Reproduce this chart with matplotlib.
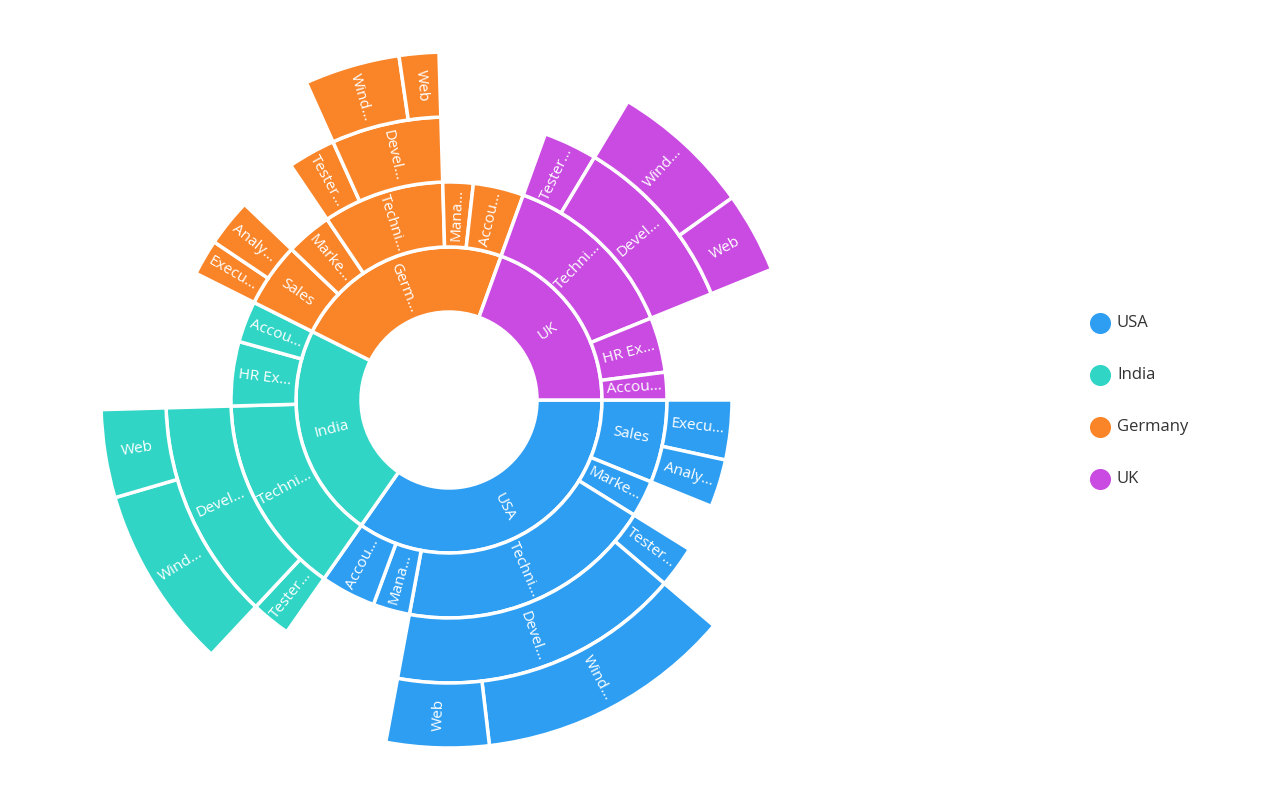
import matplotlib
matplotlib.use("Agg")
import matplotlib.pyplot as plt
from matplotlib.patches import Wedge
import numpy as np

# leaf paths (country, group, sub group, role) and their values
leaf_paths = [
    ("USA", "Sales", "Executive"),
    ("USA", "Sales", "Analyst"),
    ("USA", "Marketing"),
    ("USA", "Technical", "Testers"),
    ("USA", "Technical", "Developers", "Windows"),
    ("USA", "Technical", "Developers", "Web"),
    ("USA", "Management"),
    ("USA", "Accounts"),
    ("India", "Technical", "Testers"),
    ("India", "Technical", "Developers", "Windows"),
    ("India", "Technical", "Developers", "Web"),
    ("India", "HR Executives"),
    ("India", "Accounts"),
    ("Germany", "Sales", "Executive"),
    ("Germany", "Sales", "Analyst"),
    ("Germany", "Marketing"),
    ("Germany", "Technical", "Testers"),
    ("Germany", "Technical", "Developers", "Windows"),
    ("Germany", "Technical", "Developers", "Web"),
    ("Germany", "Management"),
    ("Germany", "Accounts"),
    ("UK", "Technical", "Testers"),
    ("UK", "Technical", "Developers", "Windows"),
    ("UK", "Technical", "Developers", "Web"),
    ("UK", "HR Executives"),
    ("UK", "Accounts"),
]
leaf_values = [50, 40, 40, 35, 175, 70, 40, 60,
               33, 125, 60, 70, 45,
               30, 40, 50, 40, 65, 27, 33, 55,
               45, 96, 55, 60, 30]

countries = ["USA", "India", "Germany", "UK"]
colors = {"USA": "#2E9EF3", "India": "#31D5C6", "Germany": "#FA8529", "UK": "#C94BE1"}

# labels as they appear (trimmed to fit)
short_labels = {
    "Germany": "Germ...", "Marketing": "Marke...", "Technical": "Techni...",
    "Management": "Mana...", "Accounts": "Accou...", "HR Executives": "HR Ex...",
    "Executive": "Execu...", "Analyst": "Analy...", "Testers": "Tester...",
    "Developers": "Devel...", "Windows": "Wind...",
}

CX, CY = 449, 389
HOLE = 88
RING = 65

fig = plt.figure(figsize=(12.69, 7.89), dpi=100)
ax = fig.add_axes([0, 0, 1, 1])
ax.set_xlim(0, 1269)
ax.set_ylim(0, 789)
ax.axis("off")

# aggregate every node (path prefix) in order
nodes = {}
order = []
for path, v in zip(leaf_paths, leaf_values):
    for d in range(1, len(path) + 1):
        key = path[:d]
        if key not in nodes:
            nodes[key] = 0
            order.append(key)
        nodes[key] += v

total = sum(leaf_values)
start = {}
cursor = {(): 0.0}
for key in order:
    parent = key[:-1]
    a0 = cursor[parent]
    span = nodes[key] / total * 360
    cursor[parent] = a0 - span
    cursor[key] = a0
    theta2, theta1 = a0, a0 - span
    depth = len(key)
    r_in = HOLE + RING * (depth - 1)
    ax.add_patch(Wedge((CX, CY), r_in + RING, theta1, theta2, width=RING,
                       facecolor=colors[key[0]], edgecolor="white", linewidth=2.5))
    mid = (theta1 + theta2) / 2
    rm = r_in + RING / 2
    x = CX + rm * np.cos(np.radians(mid))
    y = CY + rm * np.sin(np.radians(mid))
    m = (mid + 360) % 360
    rot = mid if (m < 90 or m > 270) else mid + 180
    name = key[-1]
    ax.text(x, y, short_labels.get(name, name), rotation=rot, rotation_mode="anchor",
            ha="center", va="center", color="white", fontsize=11,
            family=["Open Sans", "DejaVu Sans"])

# legend
for i, c in enumerate(countries):
    ly = 789 - (323 + i * 52)
    ax.scatter([1100], [ly], s=200, color=colors[c], marker="o")
    ax.text(1117, ly, c, ha="left", va="center", fontsize=12, color="#333333",
            family=["Open Sans", "DejaVu Sans"])

fig.savefig("out.png", dpi=100)
